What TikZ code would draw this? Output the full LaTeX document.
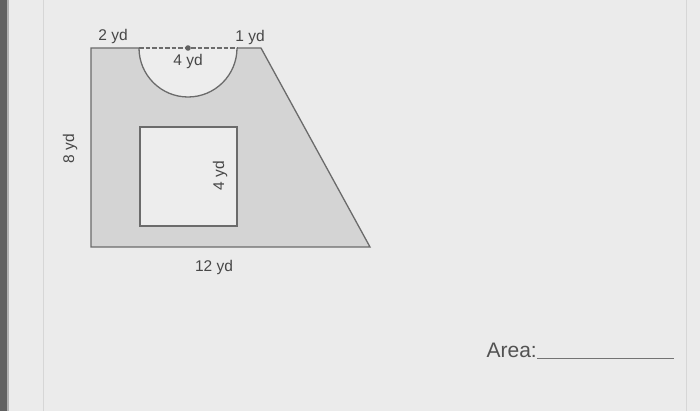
\documentclass[tikz,border=0pt]{standalone}
\usepackage{fontspec}
\setmainfont{Liberation Sans}
\begin{document}
\begin{tikzpicture}[x=1pt,y=1pt,
  edge/.style={draw=black!58, line width=1.3pt},
  lbl/.style={text=black!72, font=\fontsize{15.5}{16}\selectfont, inner sep=0pt},
  hole/.style={fill=black!7}]
\useasboundingbox (0,0) rectangle (700,-411);
\fill[black!8] (0,0) rectangle (700,-411);
\fill[black!62] (0,0) rectangle (7,-411);
\fill[black!30] (7,0) rectangle (9,-411);
\draw[black!16, line width=0.6pt] (43,0) -- (43,-411);
\draw[black!16, line width=0.6pt] (686,0) -- (686,-411);
% main shape
\coordinate (tl) at (91,-48);
\coordinate (tr) at (261,-48);
\coordinate (br) at (370,-247);
\coordinate (bl) at (91,-247);
\coordinate (sl) at (139,-48);
\coordinate (sr) at (237,-48);
\coordinate (sc) at (188,-48);
\fill[black!17] (tl) -- (tr) -- (br) -- (bl) -- cycle;
\fill[hole] (sl) arc[start angle=180, end angle=360, radius=49] -- cycle;
\draw[edge, hole] (140,-127) rectangle (237,-226);
\draw[edge, line join=miter] (sl) -- (tl) -- (bl) -- (br) -- (tr) -- (sr);
\draw[edge] (sl) arc[start angle=180, end angle=360, radius=49];
\draw[black!58, line width=1.3pt, dash pattern=on 4.5pt off 2pt] (sl) -- (sr);
\fill[black!62] (sc) circle (2.8);
% labels
\node[lbl] (l2) at (113,-36) {2 yd};
\node[lbl] (l1) at (250,-37) {1 yd};
\node[lbl] (l4) at (188,-61) {4 yd};
\node[lbl, rotate=90] (l8) at (70,-149) {8 yd};
\node[lbl, rotate=90] (l4b) at (220,-176) {4 yd};
\node[lbl] (l12) at (214,-267) {12 yd};
\node[text=black!68, font=\fontsize{21}{23}\selectfont, inner sep=0pt, anchor=base east] (area) at (537,-357) {Area:};
\coordinate (ul) at (537,-358);
\coordinate (ur) at (674,-358);
\draw[black!55, line width=1pt] (ul) -- (ur);
\end{tikzpicture}
\end{document}
